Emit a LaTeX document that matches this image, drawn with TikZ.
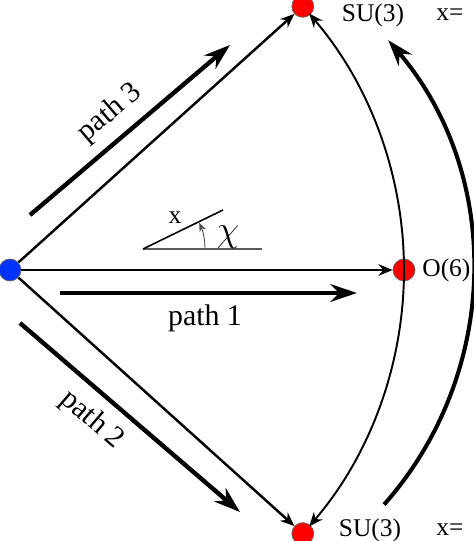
\documentclass[tikz,border=0pt]{standalone}
\usepackage{fontspec}
\setmainfont{Liberation Serif}
\usetikzlibrary{arrows.meta,calc}

\begin{document}
\begin{tikzpicture}[>=Stealth,font=\fontsize{14.5}{17}\selectfont,
  dot/.style={circle,draw=black!60,line width=0.4pt,minimum size=0.44cm,inner sep=0pt},
  ray/.style={line width=1.4pt,-{Stealth[length=8pt,width=6.5pt]}},
  patharrow/.style={line width=2.5pt,-{Stealth[length=15pt,width=10pt]}},
  pathlabel/.style={font=\fontsize{17}{19}\selectfont}]
  \useasboundingbox (0,0) rectangle (9.48,10.82);
  \node[dot,fill=blue!80!cyan] (u5) at (0.20,5.42) {};
  \node[dot,fill=red] (o6) at ($(u5)+(0:7.88)$) {};
  \node[dot,fill=red] (su3a) at ($(u5)+(42:7.88)$) {};
  \node[dot,fill=red] (su3b) at ($(u5)+(-42:7.88)$) {};
  \draw[ray] (u5) -- (o6);
  \draw[ray] (u5) -- (su3a);
  \draw[ray] (u5) -- (su3b);
  \draw[line width=1.1pt,-{Stealth[length=8pt,width=6.5pt]}] (o6.center)
       arc[start angle=0,end angle=40.6,radius=7.88];
  \draw[line width=1.1pt,-{Stealth[length=8pt,width=6.5pt]}] (o6.center)
       arc[start angle=0,end angle=-40.6,radius=7.88];
  \draw[line width=2.3pt,-{Stealth[length=15pt,width=10pt]}]
       ($(u5)+(2.18,0)+(-41.5:7.08)$) arc[start angle=-41.5,end angle=40.5,radius=7.08];
  \node[anchor=west,inner sep=0pt] (o6lab) at (8.44,5.42) {O(6)};
  \node (su3alab) at (7.46,10.52) {SU(3)};
  \node[anchor=west,inner sep=0pt] (xa) at (8.72,10.52) {x=};
  \node (su3blab) at (7.40,0.22) {SU(3)};
  \node[anchor=west,inner sep=0pt] (xb) at (8.72,0.22) {x=};
  \draw[patharrow] (1.20,4.96) -- (7.14,4.96);
  \draw[patharrow] (0.60,6.52) -- (4.60,9.92);
  \draw[patharrow] (0.40,4.36) -- (4.80,0.58);
  \node[pathlabel] (p1) at (4.10,4.46) {path 1};
  \node[pathlabel,rotate=40.4] (p3) at (2.20,8.56) {path 3};
  \node[pathlabel,rotate=-40.7] (p2) at (1.84,2.42) {path 2};
  \coordinate (ang) at (2.86,5.84);
  \draw[gray!70!black,line width=0.6pt] (ang) -- +(2.38,0);
  \draw[line width=0.9pt] (ang) -- +(26:1.78);
  \draw[gray!60!black,line width=0.5pt,-{Stealth[length=5pt,width=4pt]}] ($(ang)+(1.24,0)$)
       arc[start angle=0,end angle=25,radius=1.24];
  \node (xlab) at (3.50,6.46) {x};
  \node[font=\fontsize{22}{24}\selectfont] (chi) at (4.56,6.08) {$\chi$};
\end{tikzpicture}
\end{document}
